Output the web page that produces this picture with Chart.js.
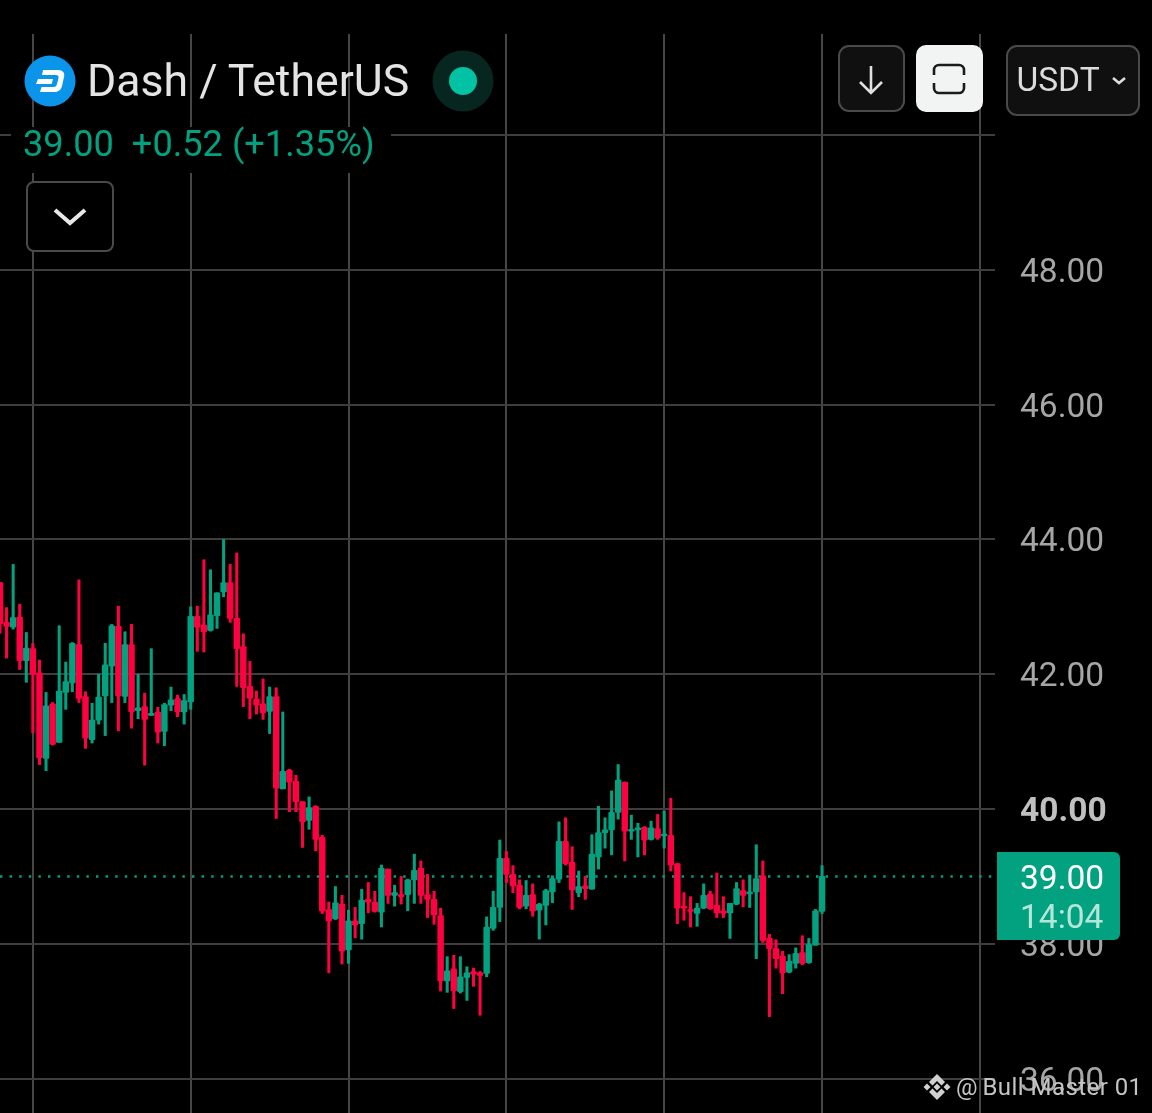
<!DOCTYPE html>
<html>
<head>
<meta charset="utf-8">
<script src="https://cdn.jsdelivr.net/npm/chart.js@4/dist/chart.umd.min.js"></script>
<style>
html,body{margin:0;padding:0;background:#000;width:1152px;height:1113px;overflow:hidden;font-family:Roboto,sans-serif}
#wrap{position:relative;width:1152px;height:1113px}
canvas{position:absolute;left:0;top:0}
.t{position:absolute;white-space:pre;line-height:1}
svg{position:absolute;left:0;top:0}
</style>
</head>
<body>
<div id="wrap">
<canvas id="c" width="1152" height="1113"></canvas>
<svg width="1152" height="1113" viewBox="0 0 1152 1113">
  <rect x="11" y="127" width="380" height="46" fill="#000"/>
  <circle cx="50" cy="81" r="25.5" fill="#0a94ea"/>
  <path d="M43 70h15c5 0 7 3 6 7l-2 9c-1 4-4 6-8 6H40l1.500-5h12c2 0 3-1 3.500-3l1.500-6c.4-2-.5-3-2.500-3H42z M38 79h15l-1.300 5H36z" fill="#fff"/>
  <circle cx="463" cy="81" r="30.500" fill="#07261f"/>
  <circle cx="463" cy="81" r="14" fill="#02c2a4"/>
  <rect x="27" y="182" width="86" height="69" rx="7" fill="#000" stroke="#4a4a4a" stroke-width="2"/>
  <path d="M55 210l15 13 15-13" fill="none" stroke="#e8e8e8" stroke-width="4"/>
  <rect x="839" y="46" width="65" height="65" rx="10" fill="#101010" stroke="#4a4a4a" stroke-width="2"/>
  <path d="M871 66v26M860 82l11 11 11-11" fill="none" stroke="#e0e0e0" stroke-width="2.6"/>
  <rect x="916" y="45" width="67" height="67" rx="10" fill="#f2f4f4"/>
  <path d="M934 75v-5a5 5 0 0 1 5-5h20a5 5 0 0 1 5 5v5M934 83v5a5 5 0 0 0 5 5h20a5 5 0 0 0 5-5v-5" fill="none" stroke="#1b1b1b" stroke-width="2.6"/>
  <rect x="1007" y="46" width="132" height="69" rx="10" fill="#101010" stroke="#4a4a4a" stroke-width="2"/>
  <path d="M1113 78l6 5 6-5" fill="none" stroke="#ddd" stroke-width="2.6"/>
  <path id="tag" d="M997 852h117a6 6 0 0 1 6 6v76a6 6 0 0 1-6 6H997z" fill="#02a17f"/>
</svg>
<div class="t" style="left:87px;top:59px;font-size:44.6px;color:#e4e4e4">Dash / TetherUS</div>
<div class="t" style="left:23px;top:126px;font-size:36.2px;color:#02a17f">39.00  +0.52 (+1.35%)</div>
<div class="t" style="left:1016.500px;top:63px;font-size:33.5px;color:#dcdcdc">USDT</div>
<div class="t" id="tagPrice" style="left:1020px;top:861px;font-size:33.5px;color:#fff">39.00</div>
<div class="t" id="tagTime" style="left:1020px;top:900px;font-size:33.5px;color:#b6e6db">14:04</div>
<svg width="1152" height="1113" viewBox="0 0 1152 1113" style="pointer-events:none">
  <g fill="#d0d0d0">
    <path d="M937 1074l8 8-3.500 3.500-4.500-4.500-4.500 4.500-3.500-3.500z"/>
    <path d="M937 1100l8-8-3.500-3.500-4.500 4.500-4.500-4.500-3.500 3.500z"/>
    <path d="M923.500 1087l3.500-3.500 3.500 3.500-3.500 3.500zM943.500 1087l3.500-3.500 3.500 3.500-3.500 3.500zM933.500 1087l3.500-3.500 3.500 3.500-3.500 3.500z"/>
  </g>
</svg>
<div class="t" style="left:956px;top:1075px;font-size:24px;letter-spacing:.45px;color:#c4c4c4"><span style="margin-right:-2px">@</span> Bull Master 01</div>
</div>
<script>
const lastPrice = 39.00;
const firstSlot = 19;
const open = [43.36,42.77,42.70,42.85,42.20,42.38,42.02,40.75,41.56,40.99,41.73,41.87,42.44,41.67,41.03,41.32,41.68,42.12,42.71,41.67,42.44,41.46,41.52,41.39,41.44,41.15,41.54,41.64,41.44,41.59,42.86,42.73,42.65,42.87,43.22,43.36,42.83,42.41,41.82,41.63,41.56,41.45,41.67,
40.30,40.58,40.41,40.11,39.83,40.04,39.58,38.51,38.37,38.59,37.91,38.34,38.30,38.66,38.62,38.47,39.11,38.72,38.73,38.73,38.95,39.12,38.73,38.66,38.42,37.45,37.63,37.29,37.50,37.59,37.57,37.56,38.23,38.54,39.27,39.03,38.87,38.56,38.73,38.50,38.57,
38.77,38.96,39.52,39.21,38.76,38.86,38.81,39.29,39.65,39.69,39.95,40.40,39.67,39.69,39.73,39.55,39.71,39.60,39.61,39.19,38.56,38.51,38.45,38.53,38.74,38.57,38.49,38.46,38.59,38.79,38.74,38.77,39.01,38.08,37.93,37.82,37.58,37.71,37.87,37.72,37.98,38.48];
const high = [43.36,42.99,43.63,43.04,42.62,42.46,42.21,41.73,41.58,42.72,42.18,42.47,43.40,41.74,41.57,42.00,42.46,42.74,43.01,42.63,42.74,42.00,41.72,42.38,41.51,41.57,41.81,41.69,41.70,43.00,43.01,43.70,43.55,43.21,44.00,43.63,43.80,42.60,42.19,41.75,41.93,41.81,41.80,
41.44,40.59,40.50,40.11,40.18,40.05,39.61,38.62,38.85,38.72,38.50,38.54,38.81,38.91,38.78,39.17,39.11,38.87,39.00,38.96,39.33,39.23,39.03,38.78,38.53,37.81,37.83,37.81,37.66,37.64,37.59,38.40,38.78,39.54,39.37,39.16,38.95,38.94,38.89,38.60,38.81,
39.01,39.81,39.87,39.44,39.08,39.00,39.62,40.04,39.87,40.27,40.66,40.40,39.91,39.79,39.74,39.82,39.92,39.97,40.16,39.19,38.76,38.70,38.60,38.89,38.78,39.05,38.70,38.60,38.91,38.95,39.02,39.47,39.23,38.14,38.06,37.89,37.84,37.94,38.12,38.08,38.51,39.16];
const low = [42.61,42.24,42.67,42.07,41.88,41.13,40.66,40.57,40.95,40.99,41.48,41.74,41.58,40.90,40.98,41.26,41.09,41.58,41.16,41.58,41.20,41.34,40.65,41.39,40.98,40.94,41.46,41.37,41.26,41.48,42.34,42.33,42.64,42.68,43.15,42.77,41.82,41.52,41.34,41.41,41.33,41.12,39.86,
40.30,39.96,39.96,39.43,39.70,39.38,38.45,37.57,38.36,37.70,37.71,38.09,38.07,38.46,38.47,38.25,38.60,38.56,38.59,38.49,38.60,38.60,38.39,38.29,37.30,37.28,37.04,37.27,37.16,37.37,36.94,37.51,38.20,38.33,38.91,38.76,38.52,38.52,38.41,38.07,38.28,
38.61,38.91,39.17,38.51,38.70,38.66,38.81,39.11,39.42,39.32,39.85,39.23,39.55,39.29,39.32,39.54,39.55,39.42,39.08,38.30,38.35,38.25,38.26,38.52,38.51,38.39,38.39,38.08,38.58,38.55,38.54,37.78,38.02,36.92,37.64,37.26,37.57,37.64,37.69,37.71,37.98,38.45];
const close = [42.75,42.71,42.84,42.20,42.39,42.00,40.76,41.53,40.96,41.75,41.89,42.46,41.64,41.05,41.32,41.66,42.14,42.72,41.68,42.44,41.44,41.50,41.33,41.42,41.14,41.55,41.62,41.44,41.61,42.86,42.70,42.63,42.88,43.21,43.36,42.83,42.38,41.80,41.64,41.54,41.43,41.67,40.31,
40.56,40.40,40.11,39.81,40.02,39.55,38.49,38.34,38.61,37.89,38.34,38.28,38.65,38.62,38.48,39.12,38.72,38.76,38.70,38.95,39.09,38.72,38.66,38.43,37.45,37.60,37.30,37.51,37.57,37.55,37.53,38.25,38.54,39.27,39.03,38.86,38.54,38.72,38.49,38.59,38.79,
38.97,39.52,39.19,38.80,38.85,38.82,39.33,39.65,39.69,39.95,40.43,39.67,39.70,39.72,39.54,39.72,39.57,39.62,39.17,38.53,38.53,38.48,38.53,38.72,38.52,38.46,38.45,38.60,38.82,38.72,38.77,38.97,38.05,37.93,37.78,37.57,37.74,37.86,37.71,37.99,38.49,39.00];
const yTickValues = [36,38,40,42,44,46,48,50];
const xTickValues = [24,48,72,96,120,144,168];

const UP = '#02a17f', DOWN = '#ff0040';
const slots = open.map((_, i) => firstSlot + i);
const colors = open.map((o, i) => close[i] >= o ? UP : DOWN);
const bodies = open.map((o, i) => ({x: slots[i], y: [o, close[i]]}));
const wicks = open.map((o, i) => ({x: slots[i], y: [low[i], high[i]]}));

new Chart(document.getElementById('c'), {
  type: 'bar',
  data: {
    datasets: [
      {type:'line', data:[{x:firstSlot,y:lastPrice},{x:170.3,y:lastPrice}], borderColor:UP, borderWidth:2.4, borderDash:[2.4,7.2], pointRadius:0, order:3},
      {data:wicks, backgroundColor:colors, barThickness:2.4, grouped:false, order:2},
      {data:bodies, backgroundColor:colors, barThickness:5.8, grouped:false, borderRadius:1, borderSkipped:false, minBarLength:2, order:1}
    ]
  },
  options: {
    responsive:false,
    animation:false,
    events:[],
    layout:{padding:{top:34,left:0,right:0,bottom:0}},
    plugins:{legend:{display:false},tooltip:{enabled:false},title:{display:false}},
    scales:{
      x:{
        type:'linear', min:firstSlot, max:170.3, offset:false,
        grid:{color:'#464646', lineWidth:2, drawTicks:false, offset:false},
        border:{display:false},
        ticks:{display:false},
        afterBuildTicks(s){ s.ticks = xTickValues.map(v => ({value:v})); },
        afterFit(s){ s.height = 0; s.paddingLeft = 0; s.paddingRight = 0; }
      },
      y:{
        position:'right', min:35.49, max:51.5,
        grid:{color:'#3e3e3e', lineWidth:2, drawTicks:false},
        border:{display:false},
        afterBuildTicks(s){ s.ticks = yTickValues.map(v => ({value:v})); },
        afterFit(s){ s.width = 157; s.paddingTop = 0; s.paddingBottom = 0; },
        ticks:{
          padding:25, labelOffset:3.5, color:(c)=> c.tick && c.tick.value===40 ? '#c0c0c0' : '#a6a6a6',
          font:(c)=> ({family:'Roboto', size:33.5, weight: c.tick && c.tick.value===40 ? '700' : '400'}),
          callback:(v)=> v===50 ? '' : Number(v).toFixed(2)
        }
      }
    }
  }
});
</script>
</body>
</html>
